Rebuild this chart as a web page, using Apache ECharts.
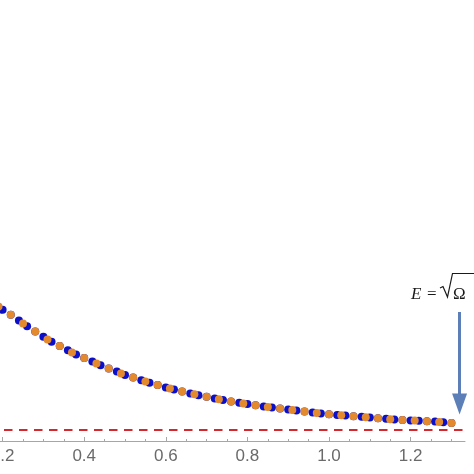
<!DOCTYPE html>
<html>
<head>
<meta charset="utf-8">
<script src="https://cdn.jsdelivr.net/npm/echarts@6/dist/echarts.min.js"></script>
<style>html,body{margin:0;padding:0;background:#fff}#c{width:474px;height:474px}</style>
</head>
<body>
<div id="c"></div>
<script>
// ---- data ----
const xTickValues = [0, 0.2, 0.4, 0.6, 0.8, 1.0, 1.2];
const xMinorTickValues = [0.05, 0.1, 0.15, 0.25, 0.3, 0.35, 0.45, 0.5, 0.55, 0.65, 0.7, 0.75, 0.85, 0.9, 0.95, 1.05, 1.1, 1.15, 1.25, 1.3];

const blueX = [0.20,0.22,0.24,0.26,0.28,0.30,0.32,0.34,0.36,0.38,0.40,0.42,0.44,0.46,0.48,0.50,0.52,0.54,0.56,0.58,0.60,0.62,0.64,0.66,0.68,0.70,0.72,0.74,0.76,0.78,0.80,0.82,0.84,0.86,0.88,0.90,0.92,0.94,0.96,0.98,1.00,1.02,1.04,1.06,1.08,1.10,1.12,1.14,1.16,1.18,1.20,1.22,1.24,1.26,1.28,1.30];
const blueY = [1.601,1.576,1.547,1.519,1.492,1.466,1.441,1.420,1.399,1.378,1.360,1.342,1.324,1.308,1.292,1.275,1.262,1.249,1.236,1.225,1.213,1.202,1.192,1.183,1.174,1.166,1.158,1.150,1.143,1.136,1.130,1.124,1.118,1.112,1.107,1.102,1.097,1.093,1.088,1.083,1.079,1.075,1.072,1.069,1.066,1.062,1.059,1.056,1.053,1.050,1.048,1.046,1.044,1.042,1.039,1.035];

const orangeX = [0.19,0.22,0.25,0.28,0.31,0.34,0.37,0.40,0.43,0.46,0.49,0.52,0.55,0.58,0.61,0.64,0.67,0.70,0.73,0.76,0.79,0.82,0.85,0.88,0.91,0.94,0.97,1.00,1.03,1.06,1.09,1.12,1.15,1.18,1.21,1.24,1.27,1.30];
const orangeY = [1.617,1.576,1.532,1.492,1.453,1.420,1.388,1.360,1.333,1.308,1.283,1.262,1.243,1.225,1.207,1.192,1.179,1.166,1.154,1.143,1.133,1.124,1.115,1.107,1.100,1.093,1.085,1.079,1.074,1.069,1.064,1.059,1.054,1.050,1.047,1.044,1.040,1.035];

const asymptoteY = 1.0;
const asymptoteX = [0, 1.33];
const arrowX = 1.32;
const arrowFromY = 1.59;
const arrowToY = 1.13;

const pairs = (xs, ys) => xs.map((x, i) => [x, ys[i]]);

const chart = echarts.init(document.getElementById('c'), null, {renderer: 'canvas'});
const xMin = 0, xMax = 1.3333;
chart.setOption({
  animation: false,
  backgroundColor: '#ffffff',
  grid: {left: -79, right: 9, top: 41, bottom: 33, containLabel: false, outerBoundsMode: 'none'},
  xAxis: [{
    type: 'value', min: xMin, max: xMax, position: 'bottom',
    axisLine: {show: true, onZero: false, lineStyle: {color: '#a6a6a6', width: 1}},
    axisTick: {show: true, inside: true, length: 4, customValues: xTickValues, lineStyle: {color: '#a6a6a6'}},
    axisLabel: {customValues: xTickValues, formatter: v => v.toFixed(1), color: '#6a6a6a', fontSize: 17, fontFamily: '"Liberation Sans", Arial, sans-serif', margin: 7},
    splitLine: {show: false}
  }, {
    type: 'value', min: xMin, max: xMax, position: 'bottom', offset: 0,
    axisLine: {show: false, onZero: false},
    axisTick: {show: true, inside: true, length: 2, customValues: xMinorTickValues, lineStyle: {color: '#a6a6a6'}},
    axisLabel: {show: false},
    splitLine: {show: false}
  }],
  yAxis: {type: 'value', min: 0.945, max: 2.945, show: false, splitLine: {show: false}},
  series: [{
    type: 'line', data: asymptoteX.map(x => [x, asymptoteY]), showSymbol: false, silent: true,
    lineStyle: {color: '#d3282d', width: 2.2, type: [8.5, 6.5], dashOffset: 7}
  }, {
    type: 'scatter', data: pairs(blueX, blueY), symbolSize: 8,
    itemStyle: {color: '#0c0fc8', opacity: 1}
  }, {
    type: 'scatter', data: pairs(orangeX, orangeY), symbolSize: 8,
    itemStyle: {color: '#e38a2f', opacity: 1},
    markLine: {
      silent: true, symbol: ['none', 'triangle'], symbolSize: [15, 21],
      label: {show: false},
      lineStyle: {color: '#5b7fb6', width: 3, type: 'solid'},
      data: [[{coord: [arrowX, arrowFromY]}, {coord: [arrowX, arrowToY]}]]
    }
  }],
  graphic: [
    {type: 'text', style: {text: 'E', x: 411, y: 286, font: 'italic 17px "Liberation Serif", "Times New Roman", serif', fill: '#1a1a1a', textVerticalAlign: 'alphabetic'}},
    {type: 'text', style: {text: '=', x: 427, y: 286, font: '17px "Liberation Serif", "Times New Roman", serif', fill: '#1a1a1a', textVerticalAlign: 'alphabetic'}},
    {type: 'polyline', shape: {points: [[440,288],[443,286.5],[447.5,297],[452.5,273.5],[474,273.5]]}, style: {stroke: '#1a1a1a', lineWidth: 1.2, fill: null}},
    {type: 'text', style: {text: 'Ω', x: 453, y: 286.5, font: '17px "Liberation Serif", "Times New Roman", serif', fill: '#1a1a1a', textVerticalAlign: 'alphabetic'}}
  ]
});
</script>
</body>
</html>
